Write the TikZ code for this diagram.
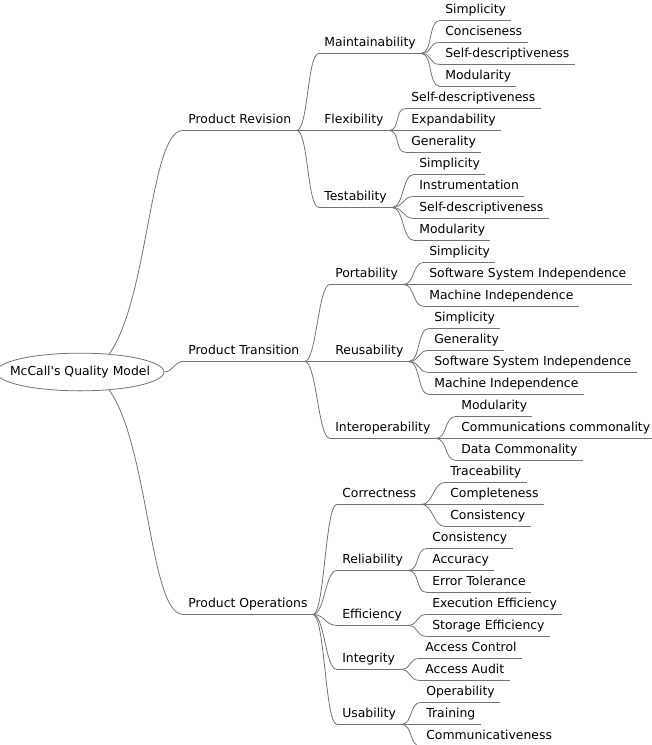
\documentclass[tikz,border=0pt]{standalone}
\usepackage{fontspec}
\setmainfont{DejaVu Sans}
\usetikzlibrary{backgrounds,shapes.geometric}
\begin{document}
\begin{tikzpicture}[x=0.75pt,y=-0.75pt,
  every node/.style={font=\fontsize{9.3pt}{11pt}\selectfont, text=black},
  it/.style={anchor=base west, inner xsep=3.8pt, inner ysep=0pt, text height=7pt, text depth=5pt,
    append after command={(\tikzlastnode.south west) edge[draw=gray!90!black, line width=0.6pt] (\tikzlastnode.south east)}},
  ln/.style={draw=gray!90!black, line width=0.6pt}]
\useasboundingbox (0,0) rectangle (652,745);
\newcommand{\IT}[4]{\node[it] (#1) at (#2-5,#3+4.5) {#4};}
\newcommand{\LK}[2]{\draw[ln] (#1.south east) .. controls +(12,0) and +(-12,0) .. (#2.south west);}
\node[ellipse, draw=gray!90!black, fill=white, line width=0.6pt, text height=7pt, text depth=2pt, inner xsep=-8pt, inner ysep=5.5pt] (root) at (80,372) {McCall\textquotesingle s Quality Model};
\IT{pr}{188}{119}{Product Revision}
\IT{pt}{188}{350}{Product Transition}
\IT{po}{188}{603}{Product Operations}
% revision
\IT{ma}{324}{42}{Maintainability}
\IT{fl}{324}{119}{Flexibility}
\IT{te}{324}{196}{Testability}
\IT{ma1}{445}{9}{Simplicity}
\IT{ma2}{445}{31}{Conciseness}
\IT{ma3}{445}{53}{Self-descriptiveness}
\IT{ma4}{445}{75}{Modularity}
\IT{fl1}{411}{97}{Self-descriptiveness}
\IT{fl2}{411}{119}{Expandability}
\IT{fl3}{411}{141}{Generality}
\IT{te1}{419}{163}{Simplicity}
\IT{te2}{419}{185}{Instrumentation}
\IT{te3}{419}{207}{Self-descriptiveness}
\IT{te4}{419}{229}{Modularity}
% transition
\IT{por}{335}{273}{Portability}
\IT{re}{335}{350}{Reusability}
\IT{in}{335}{427}{Interoperability}
\IT{por1}{429}{251}{Simplicity}
\IT{por2}{429}{273}{Software System Independence}
\IT{por3}{429}{295}{Machine Independence}
\IT{re1}{434}{317}{Simplicity}
\IT{re2}{434}{339}{Generality}
\IT{re3}{434}{361}{Software System Independence}
\IT{re4}{434}{383}{Machine Independence}
\IT{in1}{461}{405}{Modularity}
\IT{in2}{461}{427}{Communications commonality}
\IT{in3}{461}{449}{Data Commonality}
% operations
\IT{co}{342}{493}{Correctness}
\IT{rl}{342}{559}{Reliability}
\IT{ef}{342}{614}{Efficiency}
\IT{ig}{342}{658}{Integrity}
\IT{us}{342}{713}{Usability}
\IT{co1}{450}{471}{Traceability}
\IT{co2}{450}{493}{Completeness}
\IT{co3}{450}{515}{Consistency}
\IT{rl1}{432}{537}{Consistency}
\IT{rl2}{432}{559}{Accuracy}
\IT{rl3}{432}{581}{Error Tolerance}
\IT{ef1}{432}{603}{Execution Efficiency}
\IT{ef2}{432}{625}{Storage Efficiency}
\IT{ig1}{425}{647}{Access Control}
\IT{ig2}{425}{669}{Access Audit}
\IT{us1}{426}{691}{Operability}
\IT{us2}{426}{713}{Training}
\IT{us3}{426}{735}{Communicativeness}
\begin{pgfonlayer}{background}
\draw[ln] (root.center) .. controls +(70,0) and +(-40,0) .. (pr.south west);
\draw[ln] (root.east) .. controls +(8,0) and +(-8,0) .. (pt.south west);
\draw[ln] (root.center) .. controls +(70,0) and +(-40,0) .. (po.south west);
\end{pgfonlayer}
\foreach \c in {ma,fl,te} {\LK{pr}{\c}}
\foreach \c in {ma1,ma2,ma3,ma4} {\LK{ma}{\c}}
\foreach \c in {fl1,fl2,fl3} {\LK{fl}{\c}}
\foreach \c in {te1,te2,te3,te4} {\LK{te}{\c}}
\foreach \c in {por,re,in} {\LK{pt}{\c}}
\foreach \c in {por1,por2,por3} {\LK{por}{\c}}
\foreach \c in {re1,re2,re3,re4} {\LK{re}{\c}}
\foreach \c in {in1,in2,in3} {\LK{in}{\c}}
\foreach \c in {co,rl,ef,ig,us} {\LK{po}{\c}}
\foreach \c in {co1,co2,co3} {\LK{co}{\c}}
\foreach \c in {rl1,rl2,rl3} {\LK{rl}{\c}}
\foreach \c in {ef1,ef2} {\LK{ef}{\c}}
\foreach \c in {ig1,ig2} {\LK{ig}{\c}}
\foreach \c in {us1,us2,us3} {\LK{us}{\c}}
\end{tikzpicture}
\end{document}
